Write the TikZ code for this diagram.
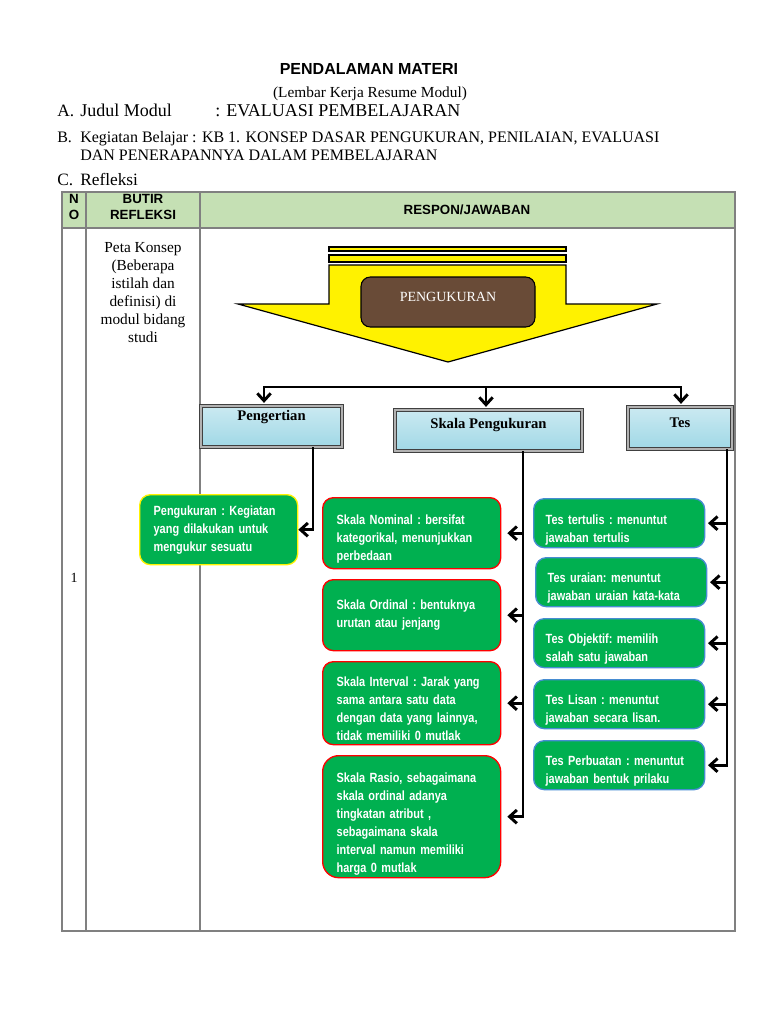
\documentclass[tikz,border=0pt]{standalone}
\usepackage{fontspec}
\setmainfont{Liberation Serif}
\newfontfamily\hsans{Liberation Sans}
\newfontfamily\cond{Liberation Sans}[FakeStretch=0.82]
\usetikzlibrary{arrows.meta,fit}
\definecolor{hdrgreen}{RGB}{197,224,180}
\definecolor{boxgreen}{RGB}{0,176,80}
\definecolor{tesblue}{RGB}{70,140,210}
\definecolor{cyanbox}{RGB}{160,216,230}
\definecolor{brownbox}{RGB}{105,75,55}
\definecolor{tablegray}{RGB}{128,128,128}
\newcommand\dn[1]{\rule{0pt}{#1}}
\newcommand\gfont{\cond\bfseries\fontsize{10}{13.5}\selectfont\frenchspacing}
\begin{document}
\begin{tikzpicture}[x=0.75pt,y=-0.75pt,
  conn/.style={line width=2.2pt, black},
  arr/.style={conn, -{Straight Barb[length=5.5pt,width=10pt]}},
  gbox/.style={rounded corners=8pt, fill=boxgreen, line width=1pt, text=white, anchor=north west,
    inner xsep=10.5pt, inner ysep=0pt, align=left, font=\gfont},
  redbox/.style={gbox, draw=red, text width=112.5pt, minimum width=133.5pt},
  tesbox/.style={gbox, draw=tesblue, inner xsep=9pt, text width=110.25pt, minimum width=128.25pt, minimum height=36.75pt},
  cbox/.style={top color=cyanbox!55!white, bottom color=cyanbox, draw=black!75, double=black!30, double distance=1.4pt, line width=0.7pt,
    inner sep=0pt, font=\bfseries\fontsize{11}{13}\selectfont},
  ytext/.style={inner sep=0pt, font=\fontsize{12}{14}\selectfont, anchor=mid west},
  hdr/.style={inner sep=0pt, align=center, font=\hsans\bfseries\fontsize{10}{12}\selectfont}
]
\useasboundingbox (0,0) rectangle (768,1024);
\fill[white] (0,0) rectangle (768,1024);

% header texts
\node[inner sep=0pt, font=\hsans\bfseries\fontsize{12}{14}\selectfont] (title) at (369,69) {PENDALAMAN MATERI};
\node[inner sep=0pt, font=\fontsize{11.5}{14}\selectfont] (sub) at (370,94) {(Lembar\ Kerja\ Resume\ Modul)};
\node[ytext, font=\fontsize{13}{16}\selectfont] (la) at (57,113) {A.};
\node[ytext, font=\fontsize{13.5}{16}\selectfont] (lajudul) at (80,113) {Judul Modul};
\node[ytext, font=\fontsize{13.5}{16}\selectfont] (laval) at (215,113) {: EVALUASI PEMBELAJARAN};
\node[ytext] (lb) at (57,139) {B.};
\node[ytext] (lbval) at (80,139) {Kegiatan Belajar : KB 1. KONSEP DASAR PENGUKURAN, PENILAIAN, EVALUASI};
\node[ytext] (lbval2) at (80,157) {DAN PENERAPANNYA DALAM PEMBELAJARAN};
\node[ytext, font=\fontsize{13}{16}\selectfont] (lc) at (57,182) {C.};
\node[ytext, font=\fontsize{13}{16}\selectfont] (lcval) at (80,182) {Refleksi};

% table
\fill[hdrgreen] (62,192) rectangle (735,228);
\draw[tablegray, line width=0.8pt] (62,192) rectangle (735,931);
\draw[tablegray, line width=0.8pt] (62,228) -- (735,228);
\draw[tablegray, line width=0.8pt] (86,192) -- (86,931);
\draw[tablegray, line width=0.8pt] (200,192) -- (200,931);
\node[hdr] (hno) at (74,207) {N\\O};
\node[hdr] (hbutir) at (143,207) {BUTIR\\REFLEKSI};
\node[hdr] (hresp) at (467,210) {RESPON/JAWABAN};
\node[inner sep=0pt, font=\fontsize{10.5}{12}\selectfont] (no1) at (74,578) {1};
\node[inner sep=0pt, align=center, font=\fontsize{11.5}{13.5}\selectfont] (butir) at (143,293)
  {Peta Konsep\\(Beberapa\\istilah dan\\definisi) di\\modul bidang\\studi};

% yellow arrow
\filldraw[fill=yellow, draw=black, line width=0.9pt] (329,247) rectangle (566,251);
\filldraw[fill=yellow, draw=black, line width=0.9pt] (329,255) rectangle (566,262);
\filldraw[fill=yellow, draw=black, line width=0.9pt]
  (329,265) -- (566,265) -- (566,304) -- (657,304) -- (448,362) -- (238,304) -- (329,304) -- cycle;
\node[fit={(361,277) (535,327)}, inner sep=0pt, rounded corners=7pt, fill=brownbox, draw=black, line width=0.8pt,
  text=white, font=\fontsize{10.5}{12}\selectfont] (peng) {PENGUKURAN};

% category boxes
\node[cbox, fit={(201,406) (342,447)}] (pengertian) {\raisebox{3pt}[\height][\depth]{Pengertian}};
\node[cbox, fit={(395,410) (582,451)}] (skala) {Skala Pengukuran};
\node[cbox, fit={(628,407) (732,449)}] (tes) {Tes};

% green boxes
\node[gbox, draw=yellow, text width=97.5pt, minimum width=118.5pt, minimum height=52.5pt] (pengukuran) at (139,494)
  {Pengukuran : Kegiatan\\yang dilakukan untuk\\mengukur sesuatu};
\node[redbox, minimum height=53.25pt] (nominal) at (322,497)
  {\dn{16pt}Skala Nominal : bersifat\\kategorikal, menunjukkan\\perbedaan};
\node[redbox, minimum height=53.25pt] (ordinal) at (322,579)
  {Skala Ordinal : bentuknya\\urutan atau jenjang};
\node[redbox, minimum height=62.25pt] (interval) at (322,661)
  {\dn{16pt}Skala Interval : Jarak yang\\sama antara satu data\\dengan data yang lainnya,\\tidak memiliki 0 mutlak};
\node[redbox, rounded corners=12pt, minimum height=91.5pt] (rasio) at (322,755)
  {\dn{19pt}Skala Rasio, sebagaimana\\skala ordinal adanya\\tingkatan atribut ,\\sebagaimana skala\\interval namun memiliki\\harga 0 mutlak};

\node[tesbox] (tertulis) at (533,498) {\dn{17pt}Tes tertulis : menuntut\\jawaban tertulis};
\node[tesbox] (uraian) at (535,557) {\dn{16pt}Tes uraian: menuntut\\jawaban uraian kata-kata};
\node[tesbox] (objektif) at (533,618) {\dn{16pt}Tes Objektif: memilih\\salah satu jawaban};
\node[tesbox] (lisan) at (533,679) {\dn{16pt}Tes Lisan : menuntut\\jawaban secara lisan.};
\node[tesbox] (perbuatan) at (533,740) {\dn{16pt}Tes Perbuatan : menuntut\\jawaban bentuk prilaku};

% connectors
\coordinate (busL) at (264,387);
\coordinate (busM) at (486,387);
\coordinate (busR) at (681,387);
\draw[conn, {Straight Barb[length=5.5pt,width=10pt]}-{Straight Barb[length=5.5pt,width=10pt]}, shorten <=2pt, shorten >=2pt]
  (busL |- pengertian.north) -- (busL) -- (busR) -- (busR |- tes.north);
\draw[arr, shorten >=2pt] (busM) -- (busM |- skala.north);

\coordinate (pv) at (313,447);
\draw[arr] (pv) |- (pengukuran.east);

\coordinate (sv) at (523,451);
\draw[arr, shorten >=4.5pt] (sv) |- (rasio.east);
\foreach \b in {nominal,ordinal,interval}
  \draw[arr, shorten >=4.5pt] (sv |- \b.east) -- (\b.east);

\coordinate (tv) at (727,449);
\draw[arr, shorten >=2pt] (tv) |- (perbuatan.east);
\foreach \b in {tertulis,uraian,objektif,lisan}
  \draw[arr, shorten >=2pt] (tv |- \b.east) -- (\b.east);
\end{tikzpicture}
\end{document}
